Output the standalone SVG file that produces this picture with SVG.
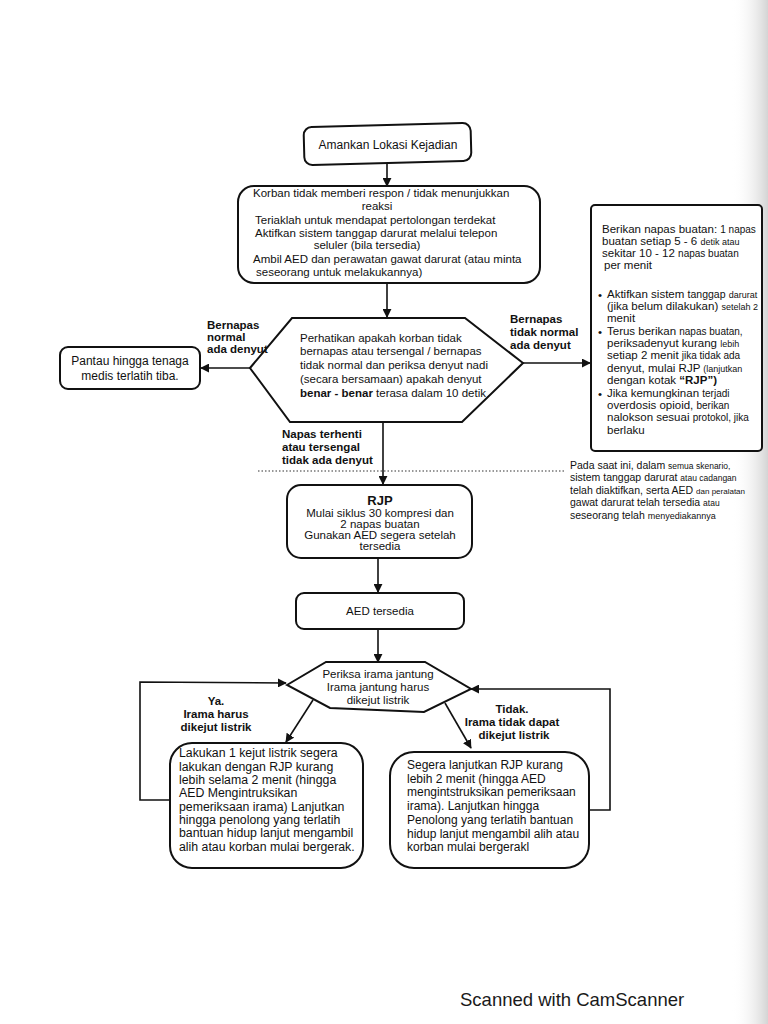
<svg xmlns="http://www.w3.org/2000/svg" width="768" height="1024" viewBox="0 0 768 1024">
<defs>
<marker id="ah" viewBox="0 0 10 10" refX="9" refY="5" markerWidth="9" markerHeight="9" markerUnits="userSpaceOnUse" orient="auto"><path d="M0,0 L10,5 L0,10 z" fill="#111"/></marker>
<linearGradient id="edge" x1="0" y1="0" x2="1" y2="0"><stop offset="0" stop-color="#fff" stop-opacity="0"/><stop offset="1" stop-color="#d4d4d4"/></linearGradient>
<style>
text{font-family:"Liberation Sans",Arial,sans-serif;fill:#111;font-size:11.5px}
.b{font-weight:bold}
.box{fill:#fff;stroke:#111;stroke-width:2}
.ln{fill:none;stroke:#111;stroke-width:1.6}
.arr{fill:none;stroke:#111;stroke-width:1.6;marker-end:url(#ah)}
.dot{fill:none;stroke:#333;stroke-width:1.2;stroke-dasharray:1.5 2}
.s9{font-size:9px}
.s10{font-size:10px}
.m{text-anchor:middle}
.nt{font-size:10.5px}
.bx{font-size:12.3px}
.bx2{font-size:12px}
</style>
</defs>
<rect width="768" height="1024" fill="#fff"/>
<rect x="732" y="0" width="36" height="1024" fill="url(#edge)"/>

<g id="connectors">
<line class="arr" x1="387" y1="164" x2="387" y2="186"/>
<line class="arr" x1="387" y1="283" x2="387" y2="317"/>
<line class="arr" x1="250" y1="368" x2="201" y2="368"/>
<line class="arr" x1="523" y1="363" x2="590" y2="363"/>
<line class="arr" x1="383" y1="422" x2="383" y2="484"/>
<line class="arr" x1="378" y1="558" x2="378" y2="592"/>
<line class="arr" x1="378" y1="629" x2="378" y2="662"/>
<line class="arr" x1="313" y1="700" x2="286" y2="742"/>
<line class="arr" x1="445" y1="703" x2="471" y2="748"/>
<polyline class="arr" points="171,800 140,800 140,682 286,683"/>
<polyline class="arr" points="589,810 610,810 610,689 471,689"/>
<line class="dot" x1="258" y1="471" x2="566" y2="471"/>
</g>

<g id="n1">
<rect class="box" x="304" y="125" width="167" height="38" rx="8" transform="rotate(-1.5 387 144)"/>
<text class="m" x="388" y="149" style="font-size:12px">Amankan Lokasi Kejadian</text>
</g>

<g id="n2">
<rect class="box" x="238" y="186" width="302" height="97" rx="16"/>
<text x="253" y="197">Korban tidak memberi respon / tidak menunjukkan</text>
<text class="m" x="377" y="210">reaksi</text>
<text x="255" y="224">Teriaklah untuk mendapat pertolongan terdekat</text>
<text x="255" y="237">Aktifkan sistem tanggap darurat melalui telepon</text>
<text class="m" x="367" y="249">seluler (bila tersedia)</text>
<text x="253" y="263">Ambil AED dan perawatan gawat darurat (atau minta</text>
<text x="256" y="276">seseorang untuk melakukannya)</text>
</g>

<g id="n3">
<polygon class="box" points="250,368 292,318 465,318 523,363 462,422 290,422"/>
<text x="300" y="342">Perhatikan apakah korban tidak</text>
<text x="300" y="355">bernapas atau tersengal / bernapas</text>
<text x="300" y="369">tidak normal dan periksa denyut nadi</text>
<text x="300" y="383">(secara bersamaan) apakah denyut</text>
<text x="300" y="397"><tspan class="b">benar - benar</tspan> terasa dalam 10 detik</text>
</g>

<g id="n4">
<rect class="box" x="60" y="347" width="140" height="42" rx="8"/>
<text class="m bx2" x="130" y="365">Pantau hingga tenaga</text>
<text class="m bx2" x="130" y="380">medis terlatih tiba.</text>
</g>

<g id="lbl1">
<text class="b" x="207" y="329">Bernapas</text>
<text class="b" x="207" y="341">normal</text>
<text class="b" x="207" y="353">ada denyut</text>
</g>
<g id="lbl2">
<text class="b" x="510" y="323">Bernapas</text>
<text class="b" x="510" y="336">tidak normal</text>
<text class="b" x="510" y="349">ada denyut</text>
</g>

<g id="n5">
<rect class="box" x="591" y="205" width="171" height="246" rx="4"/>
<text x="602" y="233">Berikan napas buatan: <tspan class="s10">1 napas</tspan></text>
<text x="602" y="245">buatan  setiap 5 - 6 <tspan class="s9">detik atau</tspan></text>
<text x="602" y="257">sekitar 10 - 12 <tspan class="s10">napas buatan</tspan></text>
<text x="604" y="269">per menit</text>
<text x="598" y="299">•</text><text x="607" y="298">Aktifkan sistem <tspan style="font-size:10.5px">tanggap</tspan> <tspan class="s9">darurat</tspan></text>
<text x="607" y="310">(jika belum dilakukan) <tspan class="s9">setelah 2</tspan></text>
<text x="607" y="322">menit</text>
<text x="598" y="336">•</text><text x="607" y="335">Terus berikan <tspan class="s10">napas buatan,</tspan></text>
<text x="607" y="347">periksadenyut kurang <tspan class="s9">lebih</tspan></text>
<text x="607" y="359">setiap 2 menit <tspan class="s10">jika tidak ada</tspan></text>
<text x="607" y="372">denyut, mulai RJP <tspan class="s9">(lanjutkan</tspan></text>
<text x="607" y="384">dengan kotak <tspan class="b">“RJP”)</tspan></text>
<text x="598" y="398">•</text><text x="607" y="397">Jika kemungkinan <tspan class="s10">terjadi</tspan></text>
<text x="607" y="409">overdosis opioid, <tspan class="s10">berikan</tspan></text>
<text x="607" y="421">nalokson sesuai <tspan class="s10">protokol, jika</tspan></text>
<text x="607" y="434">berlaku</text>
</g>

<g id="lbl3">
<text class="b" x="282" y="438">Napas terhenti</text>
<text class="b" x="282" y="451">atau tersengal</text>
<text class="b" x="282" y="464">tidak ada denyut</text>
</g>

<g id="note">
<text class="nt" x="570" y="469">Pada saat ini, dalam <tspan style="font-size:8.5px">semua skenario,</tspan></text>
<text class="nt" x="570" y="481">sistem tanggap darurat <tspan style="font-size:8.5px">atau cadangan</tspan></text>
<text class="nt" x="570" y="494">telah diaktifkan, serta AED <tspan style="font-size:8px">dan peralatan</tspan></text>
<text class="nt" x="570" y="506">gawat darurat telah tersedia <tspan style="font-size:8.5px">atau</tspan></text>
<text class="nt" x="570" y="519">seseorang telah <tspan style="font-size:9px">menyediakannya</tspan></text>
</g>

<g id="n6">
<rect class="box" x="287" y="485" width="185" height="73" rx="14"/>
<text class="m b" x="380" y="505" style="font-size:13px">RJP</text>
<text class="m" x="380" y="517">Mulai siklus 30 kompresi dan</text>
<text class="m" x="380" y="528">2 napas buatan</text>
<text class="m" x="380" y="539">Gunakan AED segera setelah</text>
<text class="m" x="380" y="550">tersedia</text>
</g>

<g id="n7">
<rect class="box" x="296" y="593" width="168" height="36" rx="8"/>
<text class="m" x="380" y="615">AED tersedia</text>
</g>

<g id="n8">
<polygon class="box" points="287,685 326,662 425,662 471,689 424,712 330,708"/>
<text class="m" x="378" y="678">Periksa irama jantung</text>
<text class="m" x="378" y="691">Irama jantung harus</text>
<text class="m" x="378" y="704">dikejut listrik</text>
</g>

<g id="lbl4">
<text class="m b" x="216" y="705">Ya.</text>
<text class="m b" x="216" y="718">Irama harus</text>
<text class="m b" x="216" y="731">dikejut listrik</text>
</g>
<g id="lbl5">
<text class="m b" x="512" y="713">Tidak.</text>
<text class="m b" x="512" y="726">Irama tidak dapat</text>
<text class="m b" x="514" y="739">dikejut listrik</text>
</g>

<g id="n9">
<rect class="box" x="170" y="743" width="193" height="125" rx="22"/>
<text class="bx" x="179" y="757">Lakukan 1 kejut listrik segera</text>
<text class="bx" x="179" y="771">lakukan dengan RJP kurang</text>
<text class="bx" x="179" y="784">lebih selama 2 menit (hingga</text>
<text class="bx" x="179" y="797">AED Mengintruksikan</text>
<text class="bx" x="179" y="811">pemeriksaan irama) Lanjutkan</text>
<text class="bx" x="179" y="824">hingga penolong yang terlatih</text>
<text class="bx" x="179" y="837">bantuan hidup lanjut mengambil</text>
<text class="bx" x="179" y="851">alih atau korban mulai bergerak.</text>
</g>

<g id="n10">
<rect class="box" x="390" y="752" width="199" height="116" rx="24"/>
<text class="bx2" x="407" y="769">Segera lanjutkan RJP kurang</text>
<text class="bx2" x="407" y="783">lebih 2 menit (hingga AED</text>
<text class="bx2" x="407" y="796">mengintstruksikan pemeriksaan</text>
<text class="bx2" x="407" y="810">irama). Lanjutkan hingga</text>
<text class="bx2" x="407" y="824">Penolong yang terlatih bantuan</text>
<text class="bx2" x="407" y="838">hidup lanjut mengambil alih atau</text>
<text class="bx2" x="407" y="851">korban mulai bergerakl</text>
</g>

<text x="460" y="1006" style="font-size:18.5px;fill:#1a1a1a">Scanned with CamScanner</text>
</svg>
